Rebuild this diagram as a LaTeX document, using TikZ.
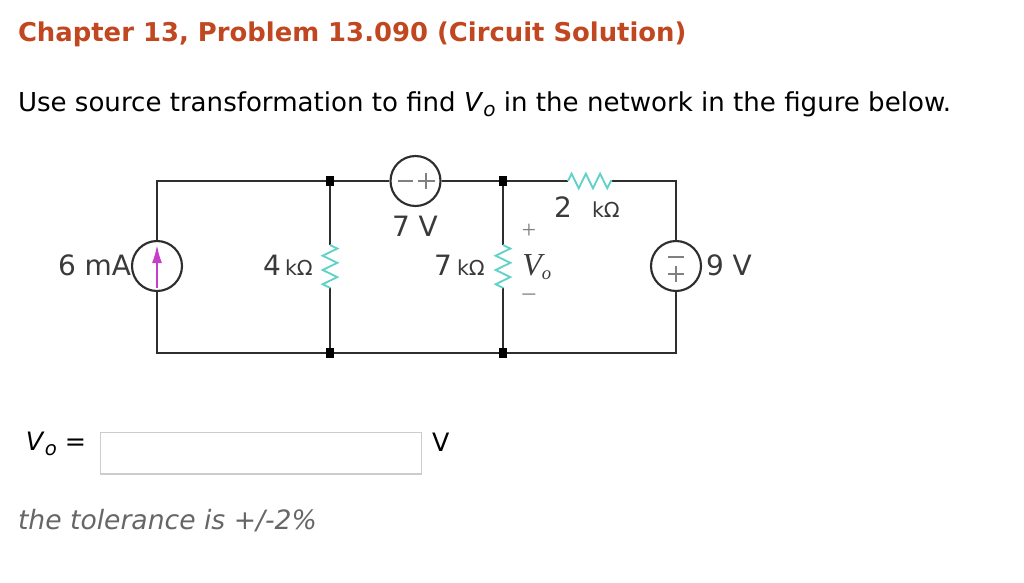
\documentclass[tikz,border=0pt]{standalone}
\usepackage{fontspec}
\setmainfont{DejaVu Sans}
\newfontfamily\serfont{Liberation Serif}
\usetikzlibrary{arrows.meta,decorations.pathmorphing}
\definecolor{titlec}{HTML}{C0471F}
\definecolor{wirec}{HTML}{2E2E2E}
\definecolor{resc}{HTML}{62D2C8}
\definecolor{arrc}{HTML}{C440C8}
\definecolor{labc}{HTML}{3A3A3A}
\definecolor{tolc}{HTML}{666666}
\definecolor{signc}{HTML}{808080}
\newcommand{\subo}[1]{\raisebox{-4pt}{\fontsize{#1}{#1}\selectfont\itshape o}}
\tikzset{
  txt/.style={anchor=base west,inner sep=0pt,outer sep=0pt,text=black},
  wire/.style={draw=wirec,line width=1.5pt},
  src/.style={circle,draw=wirec,line width=1.6pt,minimum size=37.5pt,inner sep=0pt,fill=white},
  junc/.style={rectangle,fill=black,minimum width=6pt,minimum height=7pt,inner sep=0pt},
  res/.style={draw=resc,line width=1.4pt,decorate,decoration={zigzag,amplitude=5.5pt,segment length=10.7pt}},
  lab/.style={anchor=base west,inner sep=0pt,outer sep=0pt,text=labc,font=\fontsize{21}{22}\selectfont},
  kohm/.style={anchor=base west,inner sep=0pt,outer sep=0pt,text=labc,font=\fontsize{15.5}{16}\selectfont},
  sign/.style={draw=signc,line width=1pt},
  vsign/.style={anchor=center,inner sep=0pt,text=signc,font=\serfont\fontsize{19}{20}\selectfont},
}
\begin{document}
\begin{tikzpicture}[x=.75pt,y=-.75pt]
\useasboundingbox (0,0) rectangle (1024,582);
\node[txt,text=titlec,font=\fontsize{19.4}{20}\selectfont\bfseries] (title) at (18,41) {Chapter 13, Problem 13.090 (Circuit Solution)};
\node[txt,font=\fontsize{19.55}{20}\selectfont] (q) at (18,111.5) {Use source transformation to find \textit{V}\subo{15} in the network in the figure below.};

\coordinate (tl) at (157,181);
\coordinate (bl) at (157,353);
\coordinate (tr) at (676,181);
\coordinate (br) at (676,353);
\node[junc] (j1) at (330,181) {};
\node[junc] (j2) at (503,181) {};
\node[junc] (j3) at (330,353) {};
\node[junc] (j4) at (503,353) {};
\coordinate (r1t) at (330,245);
\coordinate (r1b) at (330,288);
\coordinate (r2t) at (503,245);
\coordinate (r2b) at (503,288);
\coordinate (r3l) at (568,181);
\coordinate (r3r) at (612,181);
\node[src] (cs) at (157,266) {};
\node[src] (v7) at (415.5,181) {};
\node[src] (v9) at (676,266) {};

\draw[wire] (cs.north) -- (tl) -- (j1) -- (v7.west);
\draw[wire] (v7.east) -- (j2) -- (r3l);
\draw[wire] (r3r) -- (tr) -- (v9.north);
\draw[wire] (v9.south) -- (br) -- (j4) -- (j3) -- (bl) -- (cs.south);
\draw[wire] (j1) -- (r1t);
\draw[wire] (r1b) -- (j3);
\draw[wire] (j2) -- (r2t);
\draw[wire] (r2b) -- (j4);
\draw[res] (r1t) -- (r1b);
\draw[res] (r2t) -- (r2b);
\draw[res] (r3l) -- (r3r);

\coordinate (at) at (157,245);
\coordinate (ab) at (157,288);
\draw[draw=arrc,line width=1.4pt,-{Latex[length=13.5pt,width=7.5pt]}] (ab) -- (at);

\draw[sign] (v7.center)++(-18,0) -- ++(15,0);
\draw[sign] (v7.center)++(2,0) -- ++(17,0);
\draw[sign] (v7.center)++(10.5,-8) -- ++(0,16);
\draw[sign] (v9.center)++(-8,-9) -- ++(16,0);
\draw[sign] (v9.center)++(-8,8) -- ++(16,0);
\draw[sign] (v9.center)++(0,0) -- ++(0,16);

\node[lab] (l6) at (58,275) {6 mA};
\node[lab] (l4) at (263,275) {4};
\node[kohm] (l4k) at (285,275) {kΩ};
\node[lab] (l7) at (434,275) {7};
\node[kohm] (l7k) at (457,275) {kΩ};
\node[lab] (l7v) at (392,236) {7 V};
\node[lab] (l2) at (554,217) {2};
\node[kohm] (l2k) at (592,217) {kΩ};
\node[lab] (l9) at (706,275) {9 V};
\node[anchor=base west,inner sep=0pt,text=labc,font=\serfont\itshape\fontsize{24}{24}\selectfont] (vo) at (522,275) {V\raisebox{-3pt}{\fontsize{14}{14}\selectfont o}};
\node[vsign] (vp) at (529,231) {+};
\node[vsign] (vm) at (529,297) {–};

\node[txt,font=\fontsize{19}{20}\selectfont] (ans) at (26,450) {\textit{V}\subo{14.7} =};
\node[anchor=north west,draw=black!20,line width=.9pt,fill=white,minimum width=241pt,minimum height=31pt,inner sep=0pt] (box) at (99.5,432) {};
\node[txt,font=\fontsize{19}{20}\selectfont] (unit) at (432,451.5) {V};
\node[txt,text=tolc,font=\itshape\fontsize{19.95}{20}\selectfont] (tol) at (18,529) {the tolerance is +/-2\%};
\end{tikzpicture}
\end{document}
